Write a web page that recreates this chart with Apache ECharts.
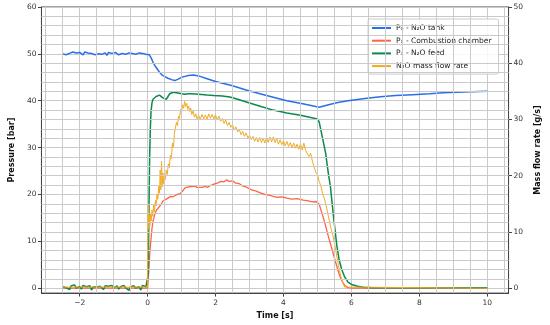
<!DOCTYPE html>
<html>
<head>
<meta charset="utf-8">
<script src="https://cdn.jsdelivr.net/npm/echarts@6/dist/echarts.min.js"></script>
<style>
html,body{margin:0;padding:0;background:#fff;}
#chart{width:550px;height:325px;}
</style>
</head>
<body>
<div id="chart"></div>
<script>
// ---- DATA ----
const seriesNames = ['P\u2080 - N\u2082O tank', 'P\u2081 - Combustion chamber', 'P\u2083 - N\u2082O feed', 'N\u2082O mass flow rate'];

// sample times before ignition (s)
const tPre = [-2.5,-2.45,-2.4,-2.35,-2.3,-2.25,-2.2,-2.15,-2.1,-2.05,-2,-1.95,-1.9,-1.85,-1.8,-1.75,-1.7,-1.65,-1.6,-1.55,-1.5,-1.45,-1.4,-1.35,-1.3,-1.25,-1.2,-1.15,-1.1,-1.05,-1,-0.95,-0.9,-0.85,-0.8,-0.75,-0.7,-0.65,-0.6,-0.55,-0.5,-0.45,-0.4,-0.35,-0.3,-0.25,-0.2,-0.15,-0.1,-0.05,0];

// P0 - tank pressure (bar)
const p0PreVals = [50.0,50.3,49.8,50.2,50.1,49.7,50.4,50.0,50.2,49.9,
  50.3,50.1,49.8,50.4,50.0,50.2,49.9,50.1,50.3,49.8,
  50.2,50.0,50.4,49.9,50.1,50.2,49.7,50.3,50.0,50.1,
  49.9,50.3,50.0,49.8,50.2,50.1,50.4,49.9,50.0,50.2,
  49.8,50.1,50.3,49.9,50.0,50.2,49.8,50.1,50.5,49.9,50.0];
const p0Time = [0.05,0.1,0.13,0.16,0.2,0.23,0.27,0.3,0.33,0.37,0.4,0.44,0.48,0.52,0.56,0.6,0.65,0.7,0.75,0.8,0.85,0.9,0.95,1.0,1.1,1.2,1.35,1.5,1.75,2.0,2.5,2.9,3.5,4.1,4.6,5.05,5.3,5.6,5.9,6.4,6.85,7.3,7.8,8.3,8.7,9.3,10];
const p0Vals = [49.8,49.2,48.9,48.2,48.0,47.3,47.2,46.6,46.5,45.9,46.0,45.4,45.6,45.1,45.2,44.8,44.9,44.5,44.6,44.3,44.6,44.6,44.9,45.0,45.2,45.4,45.5,45.3,44.7,44.1,43.2,42.3,41.1,40.0,39.3,38.6,39.1,39.6,40.0,40.5,40.85,41.1,41.3,41.5,41.7,41.85,42.0];

// P1 - combustion chamber (bar)
const p1Time = [-2.5,0,0.03,0.07,0.1,0.13,0.16,0.2,0.25,0.3,0.35,0.4,0.45,0.49,0.55,0.6,0.68,0.75,0.8,0.87,0.95,1.0,1.05,1.1,1.15,1.2,1.25,1.3,1.38,1.45,1.5,1.6,1.7,1.76,1.85,1.95,2.05,2.15,2.25,2.32,2.4,2.5,2.6,2.7,2.8,2.9,3.0,3.08,3.2,3.3,3.45,3.6,3.7,3.83,3.95,4.1,4.25,4.4,4.58,4.7,4.85,4.96,5.0,5.05,5.15,5.24,5.33,5.43,5.52,5.62,5.7,5.8,5.9,6.0,10];
const p1Vals = [0,0,3,8,10.5,12.8,14.3,15.5,16.5,17.0,17.4,17.9,18.6,18.9,19.0,19.2,19.6,19.5,19.8,20.0,20.1,20.3,20.9,21.4,21.8,21.6,21.9,21.7,21.8,21.5,21.8,21.5,21.7,21.5,21.9,22.2,22.4,22.8,22.7,23.1,22.8,22.9,22.4,22.3,21.8,21.6,21.2,20.9,20.7,20.4,20.0,19.8,19.6,19.4,19.5,19.2,19.0,19.1,18.8,18.7,18.4,18.5,18.6,17.9,15.6,13.3,10.8,8.3,5.9,3.4,1.8,0.6,0.1,0,0];

// P3 - N2O feed (bar)
const p3PreVals = [0.3,0.6,0.1,0.4,-0.3,0.5,0.2,0.7,0.0,0.3,
  0.4,-0.2,0.6,0.2,0.3,0.1,0.5,-0.4,0.3,0.6,
  0.2,0.0,0.4,0.3,-0.3,0.5,0.2,0.4,0.1,0.6,
  0.0,0.3,0.5,-0.2,0.3,0.2,0.6,0.1,0.4,-0.5,
  0.3,0.2,0.5,0.0,0.4,0.3,-0.4,0.6,0.2,0.3,0.1];
const p3Time = [0.02,0.04,0.06,0.08,0.1,0.13,0.16,0.2,0.25,0.3,0.35,0.4,0.45,0.5,0.55,0.6,0.65,0.7,0.75,0.8,0.85,0.9,1.0,1.1,1.2,1.3,1.5,1.75,1.95,2.2,2.42,2.7,3.0,3.36,3.7,4.1,4.5,5.0,5.05,5.15,5.24,5.32,5.38,5.47,5.57,5.64,5.71,5.8,5.9,6.0,6.18,6.35,6.6,10];
const p3Vals = [3,17,28,34,37.7,39.6,40.3,40.6,40.9,41.0,41.2,41.0,40.6,40.2,40.3,40.9,41.5,41.4,41.8,41.5,41.7,41.5,41.5,41.4,41.5,41.5,41.4,41.2,41.1,41.0,40.8,40.2,39.5,38.7,38.0,37.4,36.9,36.1,35.5,32.0,28.8,24.5,21.8,15.4,9.1,6.0,4.1,2.4,1.3,0.8,0.4,0.2,0.1,0.1];

// N2O mass flow rate (g/s)
const mdotTime = [-2.5,0,0.01,0.02,0.03,0.05,0.07,0.09,0.11,0.13,
  0.15,0.18,0.2,0.23,0.25,0.28,0.3,0.33,0.35,0.37,
  0.39,0.41,0.43,0.45,0.47,0.49,0.52,0.55,0.58,0.61,
  0.64,0.67,0.7,0.73,0.76,0.79,0.82,0.85,0.88,0.91,
  0.94,0.97,1.0,1.03,1.06,1.09,1.12,1.15,1.18,1.21,
  1.24,1.27,1.3,1.34,1.38,1.42,1.46,1.5,1.55,1.6,
  1.65,1.7,1.75,1.8,1.85,1.9,1.95,2.0,2.05,2.1,
  2.15,2.2,2.25,2.3,2.35,2.4,2.45,2.5,2.55,2.6,
  2.65,2.7,2.75,2.8,2.85,2.9,2.95,3.0,3.05,3.1,
  3.15,3.2,3.25,3.3,3.35,3.4,3.45,3.5,3.55,3.6,
  3.65,3.7,3.75,3.8,3.85,3.9,3.95,4.0,4.05,4.1,
  4.15,4.2,4.25,4.3,4.35,4.4,4.45,4.5,4.55,4.6,
  4.65,4.7,4.75,4.8,4.85,4.9,4.95,5.0,5.05,5.1,
  5.15,5.2,5.25,5.3,5.35,5.4,5.45,5.5,5.55,5.6,
  5.65,5.7,5.75,5.8,5.85,10];
const mdotVals = [0.2,0.2,11.0,14.9,10.5,13.0,11.2,13.4,12.0,13.9,
  12.8,14.8,13.6,15.6,14.6,16.7,15.8,18.2,16.9,21.0,
  17.5,22.6,18.0,20.5,18.6,20.2,19.3,21.0,20.2,22.1,
  21.4,23.6,23.0,25.8,25.1,27.6,27.3,29.5,28.9,30.6,
  30.2,31.8,31.3,32.6,32.0,33.2,32.3,32.9,31.8,32.4,
  31.4,32.0,30.9,31.5,30.4,31.0,30.0,30.8,30.0,30.9,
  30.1,30.8,30.0,31.0,30.2,30.9,30.1,30.8,29.9,30.6,
  29.7,30.2,29.3,29.9,28.9,29.5,28.6,29.1,28.1,28.7,
  27.8,28.2,27.3,27.9,27.0,27.6,26.7,27.2,26.4,27.0,
  26.1,26.8,26.0,26.8,25.9,26.7,25.8,26.8,25.9,26.9,
  26.0,26.9,25.9,26.6,25.6,26.4,25.5,26.2,25.3,26.1,
  25.2,25.9,25.0,25.8,24.9,25.6,24.7,25.7,24.6,25.8,
  24.5,24.8,23.4,24.0,22.6,22.4,20.6,20.2,19.0,18.2,
  16.8,16.0,14.8,13.4,12.0,10.6,9.5,8.0,6.4,4.6,
  3.1,1.8,0.9,0.2,0.0,0.0];

// ---- BUILD ----
const zip = (ts, vs) => ts.map((t, i) => [t, vs[i]]);
const p0Data = zip(tPre, p0PreVals).concat(zip(p0Time, p0Vals));
const p1Data = zip(p1Time, p1Vals);
const p3Data = zip(tPre, p3PreVals).concat(zip(p3Time, p3Vals));
const mdotData = zip(mdotTime, mdotVals);

const colors = ['#2a6fe6', '#ff6444', '#0a8a4c', '#f2aa1e'];
const fontFam = '"DejaVu Sans", Verdana, sans-serif';
const gridCol = '#cacaca';

// minor grid positions (style only)
const minorX = [];
for (let k = -6; k <= 21; k++) { const v = k * 0.5; if (v % 2 !== 0) minorX.push({ xAxis: v }); }
const minorY = [];
for (let v = 2; v < 60; v += 2) { if (v % 10 !== 0) minorY.push({ yAxis: v }); }

const fmt = v => (v < 0 ? '\u2212' + Math.abs(v) : String(v));

const chart = echarts.init(document.getElementById('chart'), null, { renderer: 'canvas' });
chart.setOption({
  animation: false,
  color: colors,
  grid: { left: 33, right: 28, top: 7, bottom: 29, show: true, borderColor: '#444', borderWidth: 1, backgroundColor: 'transparent' },
  legend: {
    data: seriesNames,
    orient: 'vertical',
    left: 368, top: 19,
    padding: [4, 7, 3, 3],
    itemGap: 2.7,
    itemWidth: 19, itemHeight: 8,
    itemStyle: { opacity: 0 },
    backgroundColor: 'rgba(255,255,255,0.85)',
    borderColor: '#cccccc', borderWidth: 1, borderRadius: 2,
    textStyle: { fontFamily: fontFam, fontSize: 7.5, color: '#222', lineHeight: 10 }
  },
  xAxis: {
    type: 'value', min: -3.125, max: 10.625, splitNumber: 7,
    name: 'Time [s]', nameLocation: 'middle', nameGap: 16,
    nameTextStyle: { fontFamily: fontFam, fontSize: 8, fontWeight: 'bold', color: '#111' },
    axisLine: { show: true, onZero: false, lineStyle: { color: '#444', width: 1 } },
    axisTick: { show: true, length: 3.5, inside: false, lineStyle: { color: '#444' } },
    axisLabel: { fontFamily: fontFam, fontSize: 7.5, color: '#333', margin: 6, showMinLabel: false, showMaxLabel: false, formatter: fmt },
    splitLine: { show: true, lineStyle: { color: gridCol, width: 1 } }
  },
  yAxis: [{
    type: 'value', min: -1.05, max: 60, splitNumber: 6,
    name: 'Pressure [bar]', nameLocation: 'middle', nameGap: 17,
    nameTextStyle: { fontFamily: fontFam, fontSize: 8, fontWeight: 'bold', color: '#111' },
    axisLine: { show: true, onZero: false, lineStyle: { color: '#444', width: 1 } },
    axisTick: { show: true, length: 3.5, inside: false, lineStyle: { color: '#444' } },
    axisLabel: { fontFamily: fontFam, fontSize: 7.5, color: '#333', margin: 5, showMinLabel: false, formatter: fmt },
    splitLine: { show: true, lineStyle: { color: gridCol, width: 1 } }
  }, {
    type: 'value', min: -0.875, max: 50, splitNumber: 5, position: 'right',
    name: 'Mass flow rate [g/s]', nameLocation: 'middle', nameGap: 19, nameRotate: 90,
    nameTextStyle: { fontFamily: fontFam, fontSize: 8, fontWeight: 'bold', color: '#111' },
    axisLine: { show: true, onZero: false, lineStyle: { color: '#444', width: 1 } },
    axisTick: { show: true, length: 3.5, inside: false, lineStyle: { color: '#444' } },
    axisLabel: { fontFamily: fontFam, fontSize: 7.5, color: '#333', margin: 5, showMinLabel: false, formatter: fmt },
    splitLine: { show: false }
  }],
  series: [
    {
      name: '__grid', type: 'line', data: [], silent: true, z: 1,
      markLine: {
        silent: true, symbol: ['none', 'none'], animation: false,
        label: { show: false },
        lineStyle: { type: 'solid', color: gridCol, width: 1 },
        emphasis: { disabled: true },
        data: minorX.concat(minorY)
      }
    },
    { name: seriesNames[0], type: 'line', data: p0Data, showSymbol: false, symbol: 'none', lineStyle: { width: 1.5, color: colors[0] }, itemStyle: { color: colors[0] }, z: 3 },
    { name: seriesNames[1], type: 'line', data: p1Data, showSymbol: false, symbol: 'none', lineStyle: { width: 1.3, color: colors[1] }, itemStyle: { color: colors[1] }, z: 3 },
    { name: seriesNames[2], type: 'line', data: p3Data, showSymbol: false, symbol: 'none', lineStyle: { width: 1.5, color: colors[2] }, itemStyle: { color: colors[2] }, z: 3 },
    { name: seriesNames[3], type: 'line', yAxisIndex: 1, data: mdotData, showSymbol: false, symbol: 'none', lineStyle: { width: 1, color: colors[3] }, itemStyle: { color: colors[3] }, z: 3 }
  ]
});
</script>
</body>
</html>
